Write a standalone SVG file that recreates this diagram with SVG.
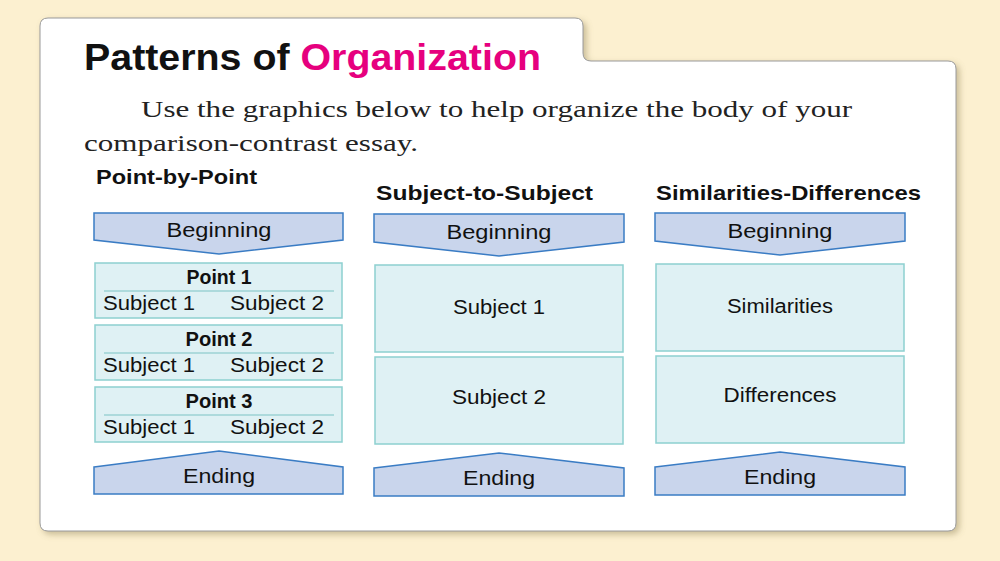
<svg xmlns="http://www.w3.org/2000/svg" width="1000" height="561" viewBox="0 0 1000 561">
<defs>
<style>
.sans{font-family:"Liberation Sans","Noto Sans",Arial,sans-serif;fill:#111}
.serif{font-family:"Liberation Serif","Times New Roman",serif;fill:#222}
.pent{fill:#C9D5EC;stroke:#3A7CC4;stroke-width:1.5}
.box{fill:#DFF1F4;stroke:#8DD0D0;stroke-width:1.5}
.rule{stroke:#7CC4C4;stroke-width:1.2}
.lbl{font-size:20px;text-anchor:middle}
.sub{font-size:20px}
.pt{font-size:20px;font-weight:bold;text-anchor:middle}
.hd{font-size:21px;font-weight:bold}
</style>
<filter id="sh" x="-5%" y="-5%" width="110%" height="115%">
<feDropShadow dx="3" dy="3" stdDeviation="3" flood-color="#8a7a50" flood-opacity="0.45"/>
</filter>
</defs>
<rect width="1000" height="561" fill="#FCF0D0"/>
<g id="panel">
<path d="M48,18 H575 Q583,18 583,26 V53 Q583,61 591,61 H948 Q956,61 956,69 V523 Q956,531 948,531 H48 Q40,531 40,523 V26 Q40,18 48,18 Z" fill="#fff" stroke="#9a9a9a" stroke-width="1" filter="url(#sh)"/>
</g>
<g id="title">
<text x="84" y="70" class="sans" font-size="37" font-weight="bold" textLength="457" lengthAdjust="spacingAndGlyphs"><tspan fill="#111">Patterns of </tspan><tspan fill="#E6007E">Organization</tspan></text>
</g>
<g id="intro">
<text x="141" y="117" class="serif" font-size="24" textLength="711" lengthAdjust="spacingAndGlyphs">Use the graphics below to help organize the body of your</text>
<text x="84" y="151" class="serif" font-size="24" textLength="334" lengthAdjust="spacingAndGlyphs">comparison-contrast essay.</text>
</g>
<g id="col1">
<text x="96" y="184" class="sans hd" textLength="161" lengthAdjust="spacingAndGlyphs">Point-by-Point</text>
<g id="c1-beginning">
<path class="pent" d="M94,213 H343 V240 L219,254 L94,240 Z"/>
<text x="219" y="237" class="sans lbl" textLength="105" lengthAdjust="spacingAndGlyphs">Beginning</text>
</g>
<g id="c1-point1">
<rect class="box" x="95" y="263" width="247" height="55"/>
<line class="rule" x1="104" y1="291" x2="334" y2="291"/>
<text x="219" y="284" class="sans pt" textLength="65" lengthAdjust="spacingAndGlyphs">Point 1</text>
<text x="103" y="310" class="sans sub" textLength="92" lengthAdjust="spacingAndGlyphs">Subject 1</text>
<text x="230" y="310" class="sans sub" textLength="94" lengthAdjust="spacingAndGlyphs">Subject 2</text>
</g>
<g id="c1-point2">
<rect class="box" x="95" y="325" width="247" height="55"/>
<line class="rule" x1="104" y1="353" x2="334" y2="353"/>
<text x="219" y="346" class="sans pt" textLength="67" lengthAdjust="spacingAndGlyphs">Point 2</text>
<text x="103" y="372" class="sans sub" textLength="92" lengthAdjust="spacingAndGlyphs">Subject 1</text>
<text x="230" y="372" class="sans sub" textLength="94" lengthAdjust="spacingAndGlyphs">Subject 2</text>
</g>
<g id="c1-point3">
<rect class="box" x="95" y="387" width="247" height="55"/>
<line class="rule" x1="104" y1="415" x2="334" y2="415"/>
<text x="219" y="408" class="sans pt" textLength="67" lengthAdjust="spacingAndGlyphs">Point 3</text>
<text x="103" y="434" class="sans sub" textLength="92" lengthAdjust="spacingAndGlyphs">Subject 1</text>
<text x="230" y="434" class="sans sub" textLength="94" lengthAdjust="spacingAndGlyphs">Subject 2</text>
</g>
<g id="c1-ending">
<path class="pent" d="M94,467 L219,451 L343,467 V494 H94 Z"/>
<text x="219" y="483" class="sans lbl" textLength="72" lengthAdjust="spacingAndGlyphs">Ending</text>
</g>
</g>
<g id="col2">
<text x="376" y="200" class="sans hd" textLength="217" lengthAdjust="spacingAndGlyphs">Subject-to-Subject</text>
<g id="c2-beginning">
<path class="pent" d="M374,214 H624 V242 L499,256 L374,242 Z"/>
<text x="499" y="239" class="sans lbl" textLength="105" lengthAdjust="spacingAndGlyphs">Beginning</text>
</g>
<g id="c2-subject1">
<rect class="box" x="375" y="265" width="248" height="87"/>
<text x="499" y="314" class="sans lbl" textLength="92" lengthAdjust="spacingAndGlyphs">Subject 1</text>
</g>
<g id="c2-subject2">
<rect class="box" x="375" y="357" width="248" height="87"/>
<text x="499" y="404" class="sans lbl" textLength="94" lengthAdjust="spacingAndGlyphs">Subject 2</text>
</g>
<g id="c2-ending">
<path class="pent" d="M374,468 L499,453 L624,468 V496 H374 Z"/>
<text x="499" y="485" class="sans lbl" textLength="72" lengthAdjust="spacingAndGlyphs">Ending</text>
</g>
</g>
<g id="col3">
<text x="656" y="200" class="sans hd" textLength="265" lengthAdjust="spacingAndGlyphs">Similarities-Differences</text>
<g id="c3-beginning">
<path class="pent" d="M655,213 H905 V241 L780,255 L655,241 Z"/>
<text x="780" y="238" class="sans lbl" textLength="105" lengthAdjust="spacingAndGlyphs">Beginning</text>
</g>
<g id="c3-similarities">
<rect class="box" x="656" y="264" width="248" height="87"/>
<text x="780" y="313" class="sans lbl" textLength="106" lengthAdjust="spacingAndGlyphs">Similarities</text>
</g>
<g id="c3-differences">
<rect class="box" x="656" y="356" width="248" height="87"/>
<text x="780" y="402" class="sans lbl" textLength="113" lengthAdjust="spacingAndGlyphs">Differences</text>
</g>
<g id="c3-ending">
<path class="pent" d="M655,467 L780,452 L905,467 V495 H655 Z"/>
<text x="780" y="484" class="sans lbl" textLength="72" lengthAdjust="spacingAndGlyphs">Ending</text>
</g>
</g>
<g id="connectors"></g>
</svg>
